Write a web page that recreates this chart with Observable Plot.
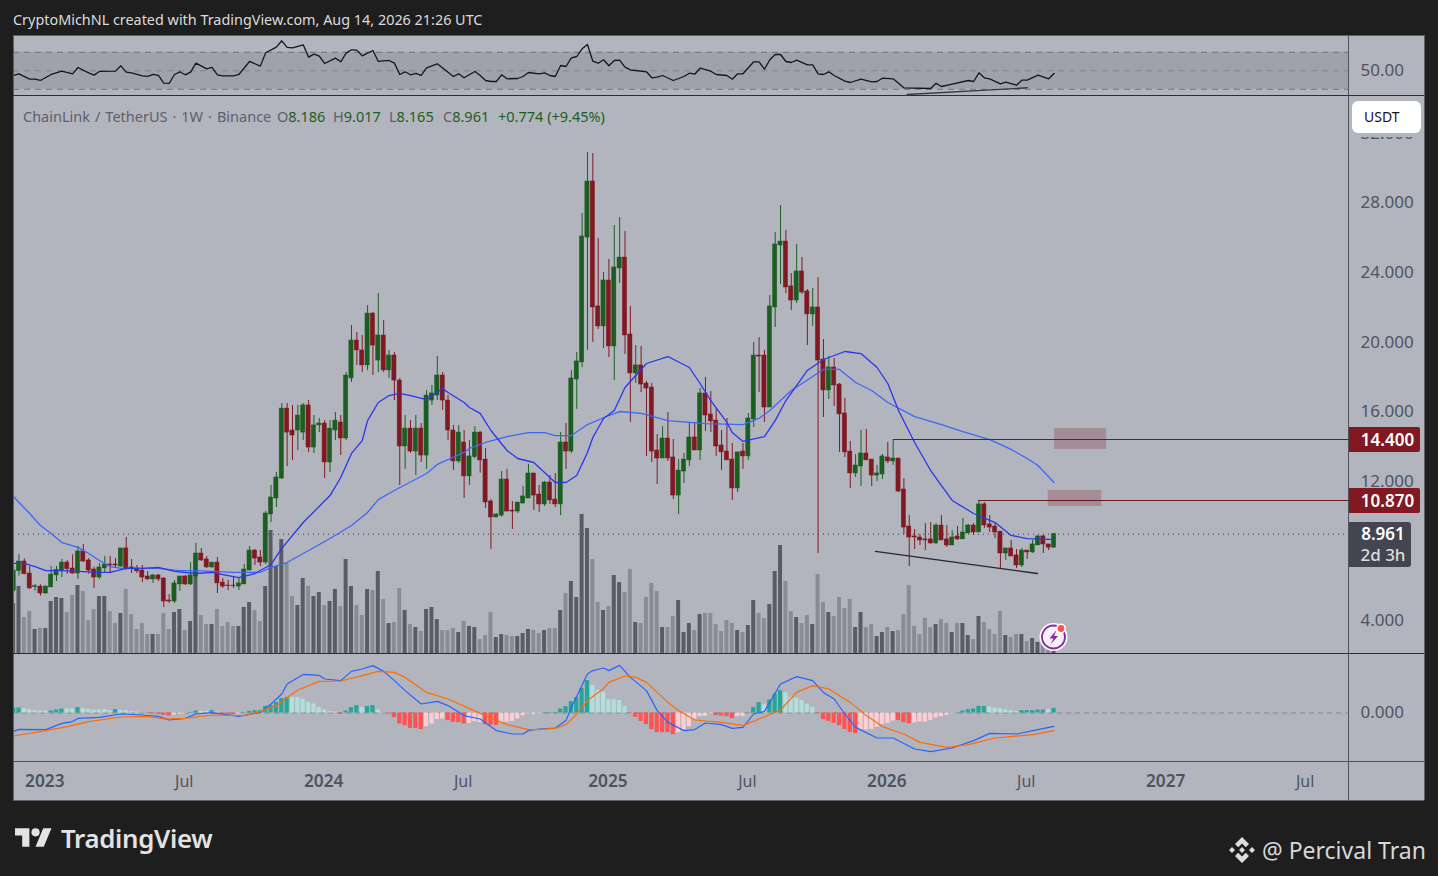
<!DOCTYPE html>
<html>
<head>
<meta charset="utf-8">
<script src="https://cdn.jsdelivr.net/npm/d3@7"></script>
<script src="https://cdn.jsdelivr.net/npm/@observablehq/plot@0.6"></script>
<style>
html,body{margin:0;padding:0;background:#1e1e1e;width:1438px;height:876px;overflow:hidden;font-family:"Noto Sans",sans-serif}
.abs{position:absolute}
svg.plot,.abs svg{display:block;max-width:none}
.lab{position:absolute;display:flex;align-items:center;justify-content:center;color:#fff;font-size:17px;font-weight:600;box-sizing:border-box}
.rule{position:absolute;background:#50535e}
</style>
</head>
<body>
<div id="root"></div>
<script>
// weekly candles, first week is six weeks before 2 Jan 2023 (week 0)
const firstWeek = -6;
const open = [
5.69,6.84,7.39,6.70,5.92,5.95,5.55,5.90,6.59,6.87,
7.33,6.99,6.70,7.97,7.45,6.93,6.47,6.99,7.22,7.22,
7.10,8.14,7.05,6.99,6.87,6.53,6.36,6.59,6.41,5.15,
5.09,6.07,6.53,6.07,6.53,7.85,7.51,7.05,7.33,6.18,
6.01,6.01,5.95,6.07,6.87,8.02,7.62,7.33,10.09,11.01,
12.16,16.18,14.92,14.92,14.80,16.36,13.94,15.21,15.32,13.08,
14.92,15.38,14.46,17.91,20.09,19.52,18.66,21.64,18.94,20.38,
18.37,19.23,17.79,14.00,15.03,13.71,15.03,13.48,16.64,16.93,
18.08,16.64,14.92,13.14,14.23,12.28,13.39,14.80,13.25,10.84,
9.92,10.03,12.10,10.32,10.26,10.72,11.01,12.45,11.24,10.67,
11.93,10.95,10.67,14.23,13.71,17.85,18.83,26.01,29.23,22.05,
20.90,23.54,19.75,24.23,24.86,20.44,18.20,18.66,17.62,17.39,
13.77,13.31,14.46,13.37,11.18,12.56,13.20,14.52,13.77,17.05,
15.84,15.49,14.06,13.71,13.25,11.59,13.71,13.43,15.55,19.23,
19.23,16.24,21.99,25.55,25.78,23.20,22.39,24.06,22.91,21.59,
21.99,19.00,17.22,18.54,17.56,15.90,13.71,12.45,12.85,13.60,
13.25,12.33,12.39,13.37,13.14,13.31,11.53,9.40,8.83,8.77,
8.66,8.66,8.43,9.46,8.66,8.31,8.83,8.66,9.00,9.46,
9.06,10.67,9.52,9.40,9.11,7.85,8.14,7.74,7.16,8.02,
7.91,8.31,8.83,8.37,8.186];
const high = [
7.07,7.79,7.54,7.10,6.07,6.05,5.99,7.10,7.10,7.51,
7.45,7.77,8.25,8.37,7.56,7.07,7.28,7.68,7.68,7.56,
8.14,8.77,7.51,7.16,7.16,6.82,6.64,6.64,6.47,5.49,
6.30,6.53,6.59,7.33,8.43,8.14,7.68,7.33,7.62,6.41,
6.30,6.53,6.41,7.22,8.25,8.08,8.02,10.26,11.76,12.51,
16.47,16.47,16.36,16.36,16.47,16.64,15.78,15.61,15.49,15.49,
15.95,15.78,18.25,20.95,20.55,20.38,22.10,21.70,22.79,21.24,
19.52,19.40,17.91,15.78,15.49,15.78,15.32,17.22,17.51,19.17,
18.25,16.93,15.21,15.21,14.92,14.34,15.15,14.86,13.89,10.95,
10.15,12.56,12.68,10.84,10.78,11.70,12.97,12.45,11.76,11.99,
12.33,12.45,14.80,15.32,18.37,19.40,27.39,30.90,30.84,25.95,
24.00,24.75,26.70,27.16,26.36,22.05,19.80,19.75,17.74,17.62,
14.69,15.15,15.95,14.40,13.25,13.60,15.32,15.38,17.33,17.97,
17.16,16.18,14.92,15.61,14.17,13.66,14.17,15.90,19.98,20.26,
19.52,22.68,26.30,27.85,26.41,23.94,25.61,24.86,23.02,23.08,
23.71,20.15,19.17,19.06,17.62,16.76,14.29,13.54,14.92,14.98,
13.25,12.91,13.54,14.23,14.40,13.31,12.16,10.03,9.23,8.94,
9.57,9.63,9.57,10.03,9.46,9.17,9.40,9.86,9.52,9.57,
10.84,10.78,10.03,9.63,9.11,8.14,8.60,8.08,8.14,8.02,
8.60,8.89,8.89,8.37,9.017];
const low = [
5.55,6.55,6.62,5.78,5.69,5.40,5.51,5.90,6.24,6.47,
6.66,6.66,6.36,7.33,6.66,5.84,6.36,6.76,6.70,6.99,
7.05,6.87,6.70,6.70,6.18,6.30,6.13,6.24,4.75,4.98,
4.98,5.67,6.01,6.01,6.41,7.39,6.99,6.99,5.55,5.84,
5.72,5.84,5.72,6.07,6.87,7.16,7.10,7.22,9.63,10.49,
12.10,12.85,13.20,13.77,14.34,13.66,13.60,14.80,12.16,12.51,
14.34,13.48,14.34,17.68,18.66,18.25,18.37,18.08,18.25,18.25,
17.91,16.64,11.76,12.68,13.60,12.33,13.08,12.68,16.36,16.64,
16.07,14.34,12.62,13.02,11.01,11.76,13.29,12.47,10.44,8.08,
9.92,9.94,10.26,9.23,10.15,10.72,11.01,10.32,10.21,10.55,
10.67,10.49,10.03,12.68,13.60,16.13,18.54,19.52,19.98,20.72,
19.63,19.11,17.79,23.37,19.29,15.38,17.62,17.10,13.43,13.08,
11.82,13.31,13.14,10.95,10.09,11.87,12.85,13.77,13.20,14.86,
14.80,13.43,12.62,13.20,10.90,11.36,12.68,13.20,15.09,17.10,
15.38,16.24,20.84,23.31,22.79,21.82,22.22,22.74,19.80,20.90,
7.85,15.67,16.70,16.30,13.66,13.37,11.59,12.22,11.70,13.20,
11.70,11.99,12.10,13.02,12.91,11.36,8.94,7.10,8.08,8.31,
8.02,8.37,8.37,8.60,8.20,8.31,8.60,8.66,9.00,8.89,
9.06,9.29,9.06,8.71,6.99,7.45,7.68,6.99,7.05,7.51,
7.85,8.31,7.85,8.02,8.165];
const close = [
6.87,7.39,6.66,5.84,5.97,5.55,5.95,6.64,6.91,7.33,
6.95,6.70,7.97,7.39,6.87,6.47,7.05,7.22,7.16,7.16,
8.14,6.99,6.97,6.82,6.47,6.36,6.59,6.36,5.09,5.09,
6.13,6.53,6.07,6.59,7.85,7.45,7.05,7.33,6.13,5.95,
5.97,5.97,6.13,6.93,8.02,7.56,7.33,10.15,11.07,12.22,
16.18,14.80,14.63,15.78,16.36,13.94,15.21,15.32,13.08,15.03,
15.49,14.46,18.08,20.09,19.52,18.66,21.64,19.80,20.38,18.37,
19.23,17.79,14.00,15.03,13.71,15.03,13.48,16.93,17.05,18.08,
16.64,14.92,13.14,14.80,12.28,13.43,14.80,13.20,10.78,9.92,
10.09,12.10,10.26,10.26,10.78,11.13,12.45,11.18,10.67,11.93,
10.90,10.67,14.23,13.71,17.91,18.89,26.07,29.23,21.99,20.90,
23.54,19.75,24.29,24.86,20.38,18.20,18.66,17.56,17.33,13.71,
13.31,14.46,13.31,11.18,12.62,13.25,14.52,13.77,17.05,15.78,
15.44,14.00,13.66,13.20,11.59,13.66,13.43,15.61,19.23,19.17,
16.24,22.05,25.61,25.78,23.14,22.39,24.06,22.85,21.59,21.99,
18.94,17.22,18.54,17.51,15.84,13.66,12.45,12.91,13.60,13.20,
12.33,12.45,13.43,13.14,13.31,11.41,9.34,8.77,8.77,8.60,
8.60,8.43,9.46,8.60,8.31,8.77,8.66,9.06,9.46,9.06,
10.67,9.46,9.34,9.06,7.85,8.14,7.68,7.16,8.02,7.91,
8.37,8.83,8.37,8.186,8.961];
const volume = [
50,67,36,42,24,25,25,52,56,55,
41,58,68,62,33,44,57,57,42,30,
40,64,39,24,30,19,19,19,40,24,
41,44,23,32,80,38,29,29,44,27,
31,27,27,46,51,43,32,67,123,87,
114,90,57,48,75,67,57,61,48,52,
64,47,94,67,48,38,64,63,82,54,
30,31,65,43,29,26,22,44,46,34,
23,23,25,21,32,27,26,14,18,41,
16,19,18,17,17,20,24,23,20,23,
25,25,43,60,72,56,139,125,94,51,
43,47,78,71,61,84,31,30,56,70,
62,26,26,37,53,21,30,23,39,40,
40,29,22,33,30,23,21,28,53,40,
35,49,82,108,72,42,36,30,38,29,
79,51,41,37,56,45,54,26,41,26,
29,17,21,26,22,23,39,68,27,19,
35,26,29,34,30,21,30,30,18,14,
37,31,24,19,42,18,16,19,19,12,
15,11,8,4,3];
const fastWeek = [-6,-4,-2,0,3,6,10,12,15,18,21,24,28,31,33,36,39,42,44,48,53,55,57,59,60,62,64,66,68,71,74,75,78,79,81,83,86,88,91,93,95,97,99,101,102,104,106,108,112,116,120,122,124,127,128,130,134,136,138,142,145,149,152,155,157,159,162,165,169,173,177,180,183,187,188];
const fastMA = [7.28,7.28,7.10,6.87,6.87,6.82,6.76,6.76,6.99,6.99,7.05,6.82,6.70,6.76,6.64,6.47,6.70,7.22,8.14,9.63,11.18,12.22,13.60,14.34,15.49,16.53,16.93,17.05,16.93,16.70,17.33,17.10,16.53,16.24,15.90,14.92,13.77,13.31,13.08,12.51,11.93,11.93,12.33,13.66,14.52,15.61,16.07,17.39,18.77,19.17,18.54,17.62,16.64,15.38,14.80,14.29,14.57,15.49,16.64,18.37,19.00,19.46,19.34,18.54,17.62,16.07,14.23,12.62,10.90,10.15,9.63,8.89,8.71,8.66,8.66];
const slowWeek = [-6,-5,-3,-1,1,3,6,8,10,12,14,18,21,25,28,31,35,40,42,45,49,53,57,60,62,65,71,73,78,79,82,86,90,93,95,98,101,105,107,111,116,123,130,133,135,139,143,145,148,151,154,157,162,167,171,176,180,183,185,188];
const slowMA = [11.13,10.78,10.15,9.46,9.00,8.48,8.20,7.85,7.45,7.10,6.99,6.99,6.99,6.87,6.87,6.82,6.76,6.76,7.05,7.33,8.02,8.71,9.46,10.21,10.95,11.47,12.45,12.97,13.66,13.89,14.23,14.57,14.80,14.80,14.63,14.63,15.26,15.78,16.01,15.90,15.49,15.32,15.26,15.61,16.07,17.22,18.02,18.43,18.43,17.68,17.22,16.53,15.72,15.26,14.86,14.40,13.83,13.31,12.91,11.93];
const rsiWeek = [-6,-5,-3,-2,-1,1,3,5,6,8,9,10,13,14,15,16,18,19,20,21,22,23,24,25,26,27,28,30,31,32,33,35,36,38,40,41,43,44,45,46,48,49,50,51,52,54,55,56,57,58,59,61,62,64,65,66,67,68,69,70,71,73,76,77,78,80,81,82,83,84,85,86,88,89,90,92,93,94,95,96,97,98,99,100,101,102,103,104,105,106,107,108,109,110,112,113,114,115,117,119,120,121,122,124,125,127,128,129,130,132,133,134,135,136,137,138,139,140,142,143,144,145,146,147,149,150,152,154,155,156,158,160,165,166,167,169,172,173,174,175,176,178,179,181,182,183,185,187,188];
const rsi = [44.95,46.76,40.99,40.99,39.55,46.04,49.64,46.76,53.60,47.84,45.31,49.28,49.64,55.41,48.56,47.84,44.59,43.87,46.04,44.95,36.66,36.30,46.04,48.92,45.68,48.56,58.29,52.16,53.60,45.68,44.59,44.59,46.04,60.09,55.05,69.46,75.59,82.44,75.23,74.87,78.11,64.78,68.02,65.86,57.93,63.70,59.73,69.10,72.71,72.34,66.22,71.98,60.09,61.17,58.29,46.04,48.92,45.68,47.12,44.95,53.24,57.57,43.87,46.76,42.43,49.28,44.95,39.51,38.43,38.43,45.68,41.35,41.68,43.84,48.16,46.76,47.84,44.92,43.84,55.73,54.65,64.05,65.46,73.78,78.43,60.38,58.22,61.89,55.41,61.13,61.46,53.89,51.08,50.32,48.92,42.43,43.08,44.92,39.51,43.84,47.41,46.32,52.81,49.57,46.00,44.92,40.92,46.76,46.76,59.73,59.73,51.73,61.89,67.62,67.62,60.05,58.97,61.46,56.49,56.49,46.76,46.00,48.92,44.92,38.76,37.35,40.92,38.11,38.43,42.00,41.35,31.62,30.87,36.60,33.03,35.51,39.51,38.43,47.84,42.43,41.35,35.95,37.68,34.43,39.84,39.84,45.24,41.35,47.08];
const hist = [
.25,.25,.22,.17,.12,.10,.10,.10,.15,.20,
.20,.20,.27,.22,.18,.15,.15,.17,.12,.17,
.12,.12,.07,.05,.02,-.02,-.05,-.07,-.12,-.15,
-.10,-.07,-.03,.03,.10,.08,.08,.12,.05,-.02,
-.07,-.08,-.05,.03,.08,.12,.12,.33,.38,.53,
.72,.78,.78,.77,.70,.53,.45,.28,.15,.07,
.05,-.07,.10,.27,.37,.27,.33,.37,.15,.02,
-.05,-.23,-.55,-.63,-.77,-.77,-.83,-.68,-.55,-.33,
-.30,-.38,-.47,-.48,-.55,-.52,-.43,-.47,-.58,-.62,
-.62,-.48,-.45,-.42,-.30,-.13,-.05,-.08,-.05,.02,
.02,.02,.20,.32,.57,.77,1.23,1.62,1.38,1.13,
1.03,.67,.67,.62,.32,-.02,-.22,-.42,-.58,-.83,
-.98,-.98,-.98,-1.08,-.98,-.85,-.68,-.30,-.18,-.17,
-.05,-.13,-.15,-.18,-.28,-.18,-.17,.03,.28,.52,
.42,.65,.95,1.12,1.02,.78,.75,.62,.45,.28,
-.02,-.33,-.42,-.52,-.63,-.82,-.97,-1.03,-.83,-.85,
-.82,-.72,-.58,-.52,-.40,-.38,-.48,-.53,-.50,-.45,
-.45,-.37,-.25,-.18,-.12,-.05,.02,.10,.17,.20,
.33,.33,.30,.25,.22,.15,.12,.08,.12,.12,
.12,.15,.15,.17,.23];
const histTone = (
"d d l l l l l d d d "+"l l d l l l l l l d "+"l l l l l r r r r r "+"p p p d d l l d l r "+
"r r p d d d d d d d "+"d d l l l l l l l l "+"l r d d d l d d l l "+"r r r r r r r p p p "+
"p r r r r p p p r r "+"r p p p p p p p p d "+"d d d d d d d d l l "+"l l l l l r r r r r "+
"r r r r p p p p p p "+"p r r r r p p d d d "+"l d d d l l l l l l "+"r r r r r r r r p p "+
"p p p p p r r r p p "+"p p p p p p d d d d "+"d d l l l l l l d d "+"d d d l d").trim().split(" ");
const macdWeek = [-6,-5,0,3,5,6,10,14,18,21,23,26,28,31,36,40,42,44,45,48,51,52,55,57,59,61,63,65,67,70,73,75,78,81,84,87,89,90,92,95,97,98,101,102,104,105,107,109,112,114,116,119,121,123,126,128,130,132,134,137,140,143,145,147,149,151,155,158,162,165,169,173,176,181,185,188];
const macd = [-.92,-.82,-.83,-.52,-.43,-.27,-.22,-.05,-.10,-.17,-.35,-.27,-.05,.02,-.17,.03,.45,.95,1.45,1.93,1.88,1.70,1.62,2.08,2.20,2.37,2.08,1.62,1.12,.45,.58,.37,-.13,-.30,-.88,-1.05,-1.05,-.88,-.80,-.75,-.38,.28,1.95,2.12,2.25,2.12,2.38,1.78,1.12,.12,-.47,-.88,-.83,-.50,-.58,-.77,-.72,-.05,.08,1.45,1.82,1.62,1.03,.70,-.05,-.72,-1.25,-1.25,-1.80,-1.93,-1.75,-1.38,-1.02,-1.05,-.83,-.67];
const signalWeek = [-6,0,4,8,14,19,22,26,31,37,40,43,47,51,55,59,62,65,67,71,75,81,86,90,92,95,97,99,101,104,105,108,110,112,116,118,121,126,130,133,137,140,143,146,150,153,156,160,163,168,172,177,184,188];
const signal = [-1.15,-.88,-.68,-.43,-.20,-.17,-.30,-.27,-.10,-.13,.07,.37,1.15,1.58,1.60,1.87,2.08,2.03,1.78,1.03,.70,-.02,-.58,-.83,-.83,-.77,-.58,-.05,.62,1.23,1.53,1.85,1.78,1.53,.53,.12,-.35,-.47,-.63,-.30,.15,1.03,1.37,1.20,.53,-.13,-.68,-1.05,-1.47,-1.72,-1.58,-1.25,-1.08,-.88];
const priceTicks = [4,12,16,20,24,28,32];
const yearTicks = [0,52,105,157,209];
const yearLabels = ["2023","2024","2025","2026","2027"];
const julyTicks = [26,78,131,183,235];
const levels = [{week:158,price:14.4},{week:174,price:10.87}];
const zones = [{w1:188.1,w2:197.8,p1:13.83,p2:15.03},{w1:186.9,w2:196.9,p1:10.55,p2:11.47}];
const wedge = [{week:154.7,price:7.97},{week:184.9,price:6.70}];
const rsiWedge = [{week:160.6,value:24.4},{week:183,value:31.6}];
const lastPrice = 8.961;

const weeks = open.map((_,i)=>firstWeek+i);
const candles = weeks.map((t,i)=>({t,o:open[i],h:high[i],l:low[i],c:close[i],v:volume[i],m:hist[i],k:histTone[i]}));
const zip = (ws,vs)=>ws.map((t,i)=>({t,v:vs[i]}));

const FONT='"Noto Sans",sans-serif';
const W=1411, MR=76, xDom=[-6.02,242.9], xRange=[0,W-MR];
const xs={domain:xDom,range:xRange,axis:null};
const UP="#1b5e20", DN="#801922";
const tickFill="#50535e";
const base=(h)=>({width:W,height:h,marginLeft:0,marginRight:MR,marginTop:0,marginBottom:0,x:xs,
  style:{background:"transparent",fontFamily:FONT,overflow:"visible",maxWidth:"none"}});
const root=document.getElementById("root");
function div(cls,css,html){const d=document.createElement("div");d.className=cls;d.style.cssText=css;if(html!=null)d.innerHTML=html;root.appendChild(d);return d;}
function place(plot,top){plot.style.position="absolute";plot.style.left="13px";plot.style.top=top+"px";root.appendChild(plot);return plot;}

div("abs","left:13px;top:35px;width:1411px;height:765px;background:#b2b5be");

// RSI pane
const rsiPlot=Plot.plot({...base(60),y:{domain:[23.3,88.16],range:[60,0],axis:null},marks:[
  Plot.rect([{}],{x1:xDom[0],x2:xDom[1],y1:30,y2:70,fill:"#a0a2ab"}),
  Plot.ruleY([30,70],{stroke:"#72757e",strokeDasharray:"6,5",strokeWidth:1}),
  Plot.ruleY([50],{stroke:"#82858e",strokeDasharray:"6,5",strokeWidth:1}),
  Plot.axisY([50],{anchor:"right",tickSize:0,tickPadding:12,tickFormat:d=>d.toFixed(2),fontSize:17,fill:tickFill,label:null}),
  Plot.line(zip(rsiWeek,rsi),{x:"t",y:"v",stroke:"#15161a",strokeWidth:1.3,clip:true}),
  Plot.line(rsiWedge,{x:"week",y:"value",stroke:"#3a3b40",strokeWidth:1.4})
]});
place(rsiPlot,35);

// Volume pane (behind candles)
const volPlot=Plot.plot({...base(557),y:{domain:[0,557],range:[557,0],axis:null},marks:[
  Plot.rect(candles,{x1:d=>d.t-.37,x2:d=>d.t+.37,y1:0,y2:"v",fill:d=>d.c>=d.o?"#5b5c62":"#8a8c95",clip:true})
]});
place(volPlot,96);

// Price pane
const pricePlot=Plot.plot({...base(557),y:{domain:[2.103,34.115],range:[557,0],axis:null},marks:[
  Plot.axisY(priceTicks,{anchor:"right",tickSize:0,tickPadding:12,tickFormat:d=>d.toFixed(3),fontSize:17,fill:tickFill,label:null}),
  Plot.rect(zones,{x1:"w1",x2:"w2",y1:"p1",y2:"p2",fill:"#801922",fillOpacity:.25}),
  Plot.ruleY([lastPrice],{stroke:"#3a3b40",strokeDasharray:"1,4",strokeWidth:1}),
  Plot.ruleX(candles,{x:"t",y1:"l",y2:"h",stroke:d=>d.c>=d.o?UP:DN,strokeWidth:1,clip:true}),
  Plot.rect(candles,{x1:d=>d.t-.39,x2:d=>d.t+.39,y1:"o",y2:"c",fill:d=>d.c>=d.o?UP:DN,stroke:d=>d.c>=d.o?UP:DN,strokeWidth:.5,clip:true}),
  Plot.line(zip(slowWeek,slowMA),{x:"t",y:"v",stroke:"#3d68f5",strokeWidth:1.3,clip:true}),
  Plot.line(zip(fastWeek,fastMA),{x:"t",y:"v",stroke:"#2a35ee",strokeWidth:1.3,clip:true}),
  Plot.ruleY(levels,{x1:"week",x2:()=>xDom[1],y:"price",stroke:"#6e1a22",strokeWidth:1,shapeRendering:"crispEdges"}),
  Plot.line(wedge,{x:"week",y:"price",stroke:"#26272c",strokeWidth:1.4})
]});
place(pricePlot,96);
const yP=p=>pricePlot.scale("y").apply(p)+96;

// MACD pane
const macdPlot=Plot.plot({...base(107),y:{domain:[-2.425,2.925],range:[107,0],axis:null},marks:[
  Plot.ruleY([0],{stroke:"#85878f",strokeDasharray:"5,4",strokeWidth:1}),
  Plot.axisY([0],{anchor:"right",tickSize:0,tickPadding:12,tickFormat:d=>d.toFixed(3),fontSize:17,fill:tickFill,label:null}),
  Plot.rect(candles,{x1:d=>d.t-.39,x2:d=>d.t+.39,y1:0,y2:"m",
    fill:d=>({d:"#26a69a",l:"#b2dfdb",r:"#ff5252",p:"#ffcdd2"})[d.k],clip:true}),
  Plot.line(zip(macdWeek,macd),{x:"t",y:"v",stroke:"#2962ff",strokeWidth:1.2,clip:true}),
  Plot.line(zip(signalWeek,signal),{x:"t",y:"v",stroke:"#ff6d00",strokeWidth:1.2,clip:true})
]});
place(macdPlot,654);

// Time axis
const timePlot=Plot.plot({...base(38),marks:[
  Plot.text(yearTicks,{x:d=>d,text:(d,i)=>yearLabels[i],frameAnchor:"middle",dx:-1,fontSize:17.3,fontWeight:600,fill:tickFill}),
  Plot.text(julyTicks,{x:d=>d,text:()=>"Jul",frameAnchor:"middle",dx:-1,fontSize:16,fill:tickFill})
]});
place(timePlot,762);

// Pane borders
[["left:13px;top:35px;width:1411px;height:1px","#5d606b"],["left:13px;top:800px;width:1411px;height:1px","#5d606b"],
 ["left:13px;top:35px;width:1px;height:765px","#5d606b"],["left:1424px;top:35px;width:1px;height:765px","#5d606b"],
 ["left:1348px;top:35px;width:1px;height:765px","#50535e"],
 ["left:13px;top:95px;width:1411px;height:1px","#2a2e39"],["left:13px;top:653px;width:1411px;height:1px","#2a2e39"],
 ["left:13px;top:761px;width:1411px;height:1px","#50535e"]].forEach(([c,b])=>div("rule",c+";background:"+b));

// Price labels
const tag=(p,txt)=>div("lab",`left:1349px;top:${yP(p)-12.5}px;width:71px;height:25px;background:${DN};border-radius:0 2px 2px 0;padding-left:6px`,txt);
tag(14.4,"14.400");tag(10.87,"10.870");
div("lab",`left:1349px;top:${yP(lastPrice)-12}px;width:62px;height:45px;background:#434651;border-radius:0 3px 3px 0;flex-direction:column;line-height:21px;padding-left:6px`,
  `<span>8.961</span><span style="font-weight:500;color:#ddd">2d 3h</span>`);
div("abs","left:1349px;top:96px;width:75px;height:41px;background:#b2b5be");
div("abs","left:1352px;top:101px;width:69px;height:32px;background:#fff;border-radius:6px;color:#131722;font-size:14px;line-height:32px;padding-left:12px;box-sizing:border-box","USDT");

// Texts
div("abs","left:13px;top:10px;color:#dcdcdc;font-size:14.4px;line-height:20px;white-space:pre","CryptoMichNL created with TradingView.com, Aug 14, 2026 21:26 UTC");
const g=s=>`<span style="color:${UP}">${s}</span>`;
const legend=(x,html,extra="")=>div("abs",`left:${x}px;top:106px;color:#5d606b;font-size:14.5px;line-height:20px;white-space:pre;${extra}`,html);
legend(23,"ChainLink / TetherUS · 1W · Binance","word-spacing:1.2px");
legend(277,`O${g("8.186")}`);legend(333,`H${g("9.017")}`);legend(389,`L${g("8.165")}`);legend(443,`C${g("8.961")}`);
legend(498,g("+0.774 (+9.45%)"));

// Logo and watermark
div("abs","left:15px;top:824px;width:37px;height:29px",`<svg viewBox="0 0 36 28" width="37" height="29" fill="#e3e3e3"><path d="M14 22H7V11H0V4h14v18zM28 22h-8l7.5-18h8L28 22z"/><circle cx="20" cy="8" r="4"/></svg>`);
div("abs","left:61px;top:820px;color:#e3e3e3;font-size:25.8px;font-weight:600;line-height:36px;white-space:pre;letter-spacing:-.3px","TradingView");
div("abs","left:1228px;top:836px;width:28px;height:28px",`<svg viewBox="0 0 28 28" width="28" height="28" fill="none"><g fill="#dcdcdc"><path d="M14 1l7 7-3.2 3.2L14 7.4l-3.8 3.8L7 8z"/><path d="M14 27l7-7-3.2-3.2-3.8 3.8-3.8-3.8L7 20z"/><path d="M1 14l3-3 3 3-3 3zM21 14l3-3 3 3-3 3zM11 14l3-3 3 3-3 3z"/></g></svg>`);
div("abs","left:1262px;top:832px;color:#d8d8d8;font-size:23px;line-height:36px;white-space:pre","@ Percival Tran");

// Lightning badge
div("abs","left:1039px;top:622px;width:30px;height:30px",`<svg viewBox="0 0 30 30" width="30" height="30"><circle cx="14.5" cy="15" r="14" fill="#fff"/><circle cx="14.5" cy="15" r="11.5" fill="#f6f3f8" stroke="#8e24aa" stroke-width="1.8"/><path d="M17.5 8l-7 8.5h4l-3 6 7.5-8.5h-4z" fill="#8e24aa"/><circle cx="22" cy="6.5" r="5" fill="#fff"/><circle cx="22" cy="6.5" r="3.4" fill="#ff5252"/></svg>`);
</script>
</body>
</html>
